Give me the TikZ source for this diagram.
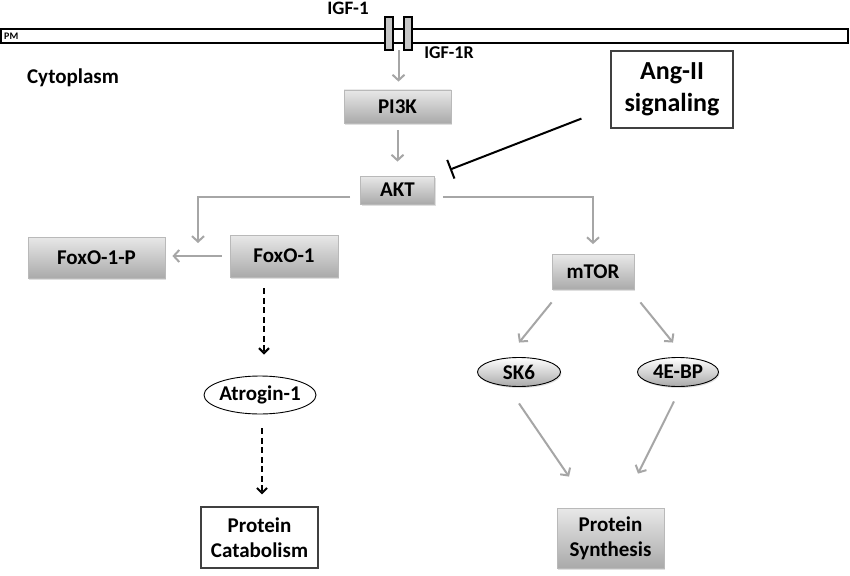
\documentclass[tikz,border=0pt]{standalone}
\usepackage{fontspec}
\setmainfont{Carlito}
\usetikzlibrary{arrows.meta,shapes.geometric,shadows,calc}
\definecolor{agray}{RGB}{166,166,166}
\definecolor{bgtop}{RGB}{232,232,232}
\definecolor{bgbot}{RGB}{170,170,170}
\newcommand{\fs}[1]{\fontsize{#1}{#1}\selectfont}
\begin{document}
\begin{tikzpicture}[x=1pt,y=-1pt,
  every node/.style={font=\bfseries},
  bevel/.style={rectangle, top color=bgtop, bottom color=bgbot, draw=gray!55, line width=0.8pt,
    drop shadow={opacity=0.25, shadow xshift=1.2pt, shadow yshift=-1.5pt}, inner sep=0pt, font=\bfseries\fs{21}},
  gellipse/.style={ellipse, top color=white, bottom color=bgbot, draw=black, line width=0.9pt,
    drop shadow={opacity=0.25, shadow xshift=1pt, shadow yshift=-1.5pt}, inner sep=0pt, font=\bfseries\fs{21}},
  wellipse/.style={ellipse, fill=white, draw=black, line width=0.9pt, inner sep=0pt, font=\bfseries\fs{21}},
  wbox/.style={rectangle, fill=white, draw=black!75, line width=1.2pt, inner sep=0pt, align=center},
  garrow/.style={draw=agray, line width=2pt, -{Straight Barb[length=5.5pt,width=12pt,line width=2pt]}},
  darrow/.style={draw=black, line width=2pt, dash pattern=on 6pt off 3.5pt, -{Straight Barb[length=5pt,width=10pt,line width=2pt]}},
  inhib/.style={draw=black, line width=2pt, -{Bar[width=20pt,line width=2pt]}},
  recept/.style={rectangle, fill=gray!45, draw=black, line width=1.6pt, inner sep=0pt, minimum width=8pt, minimum height=33pt},
  plain/.style={inner sep=0pt}
]
\useasboundingbox (0,0) rectangle (850,575);
\fill[white] (0,0) rectangle (850,575);

% membrane
\node[rectangle, draw=black, line width=1.6pt, fill=white, minimum width=847pt, minimum height=14pt, inner sep=0pt] (mem) at (424.5,36) {};
\node[plain, anchor=west, font=\bfseries\fs{10}] (pm) at (4,36) {PM};
\node[recept] (r1) at (389,33.5) {};
\node[recept] (r2) at (408,33.5) {};
\coordinate (recbot) at (398.5,50);
\node[plain, font=\bfseries\fs{19}] (igf) at (348,8) {IGF-1};
\node[plain, font=\bfseries\fs{18}] (igfr) at (449,53) {IGF-1R};
\node[plain, font=\bfseries\fs{21}] (cyto) at (73,78) {Cytoplasm};

% nodes
\node[bevel, minimum width=107pt, minimum height=33pt] (pi3k) at (397.5,106.5) {PI3K};
\node[bevel, minimum width=74pt, minimum height=28pt] (akt) at (397.5,190) {AKT};
\node[wbox, minimum width=122pt, minimum height=77pt, font=\bfseries\fs{26}] (ang) at (672,89.5) {Ang-II\\[6pt]signaling};
\node[bevel, minimum width=137pt, minimum height=41pt] (foxop) at (96.5,257.5) {FoxO-1-P};
\node[bevel, minimum width=108pt, minimum height=42pt] (foxo) at (284,256) {FoxO-1};
\node[bevel, minimum width=82pt, minimum height=35pt] (mtor) at (593,272) {mTOR};
\node[gellipse, minimum width=83pt, minimum height=29pt] (sk6) at (519,372) {\makebox[0pt]{SK6}};
\node[gellipse, minimum width=81pt, minimum height=29pt] (ebp) at (678,372) {\makebox[0pt]{4E-BP}};
\node[wellipse, minimum width=112pt, minimum height=38pt] (atro) at (260,395) {\makebox[0pt]{Atrogin-1}};
\node[wbox, minimum width=117pt, minimum height=61pt, font=\bfseries\fs{21}] (cat) at (259.5,537.5) {Protein\\[4pt]Catabolism};
\node[bevel, minimum width=107pt, minimum height=60pt, align=center] (syn) at (610.5,538) {Protein\\[4pt]Synthesis};

\coordinate (fl) at (198,243);

% connectors
\draw[garrow, shorten >=8pt] (recbot) -- (recbot |- pi3k.north);
\draw[garrow, shorten <=7pt, shorten >=14pt] (pi3k.south) -- (akt.north);
\draw[garrow] ([xshift=-10pt,yshift=-7pt]akt.west) -| (fl);
\draw[garrow, shorten >=10pt] ([xshift=8pt,yshift=-7pt]akt.east) -| (mtor.north);
\draw[garrow, shorten <=8pt, shorten >=7pt] (foxo.west) -- (foxo.west -| foxop.east);
\draw[darrow] ([xshift=-20pt,yshift=-11pt]foxo.south) -- ([xshift=4pt,yshift=21pt]atro.north);
\draw[darrow] ([xshift=2pt,yshift=-14pt]atro.south) -- ([xshift=2.5pt,yshift=12pt]cat.north);
\draw[garrow] ([yshift=-12.5pt]mtor.south west) -- ([yshift=14.5pt]sk6.north);
\draw[garrow] ([xshift=6pt,yshift=-12.5pt]mtor.south east) -- ([xshift=-5pt,yshift=14.5pt]ebp.north);
\draw[garrow] ([yshift=-16.5pt]sk6.south) -- ([xshift=-41.5pt,yshift=31pt]syn.north);
\draw[garrow] ([xshift=-4pt,yshift=-14.5pt]ebp.south) -- ([xshift=27.5pt,yshift=34pt]syn.north);
\draw[inhib] ([xshift=-29pt,yshift=10pt]ang.south west) -- ([xshift=15pt,yshift=6pt]akt.north east);
\end{tikzpicture}
\end{document}
